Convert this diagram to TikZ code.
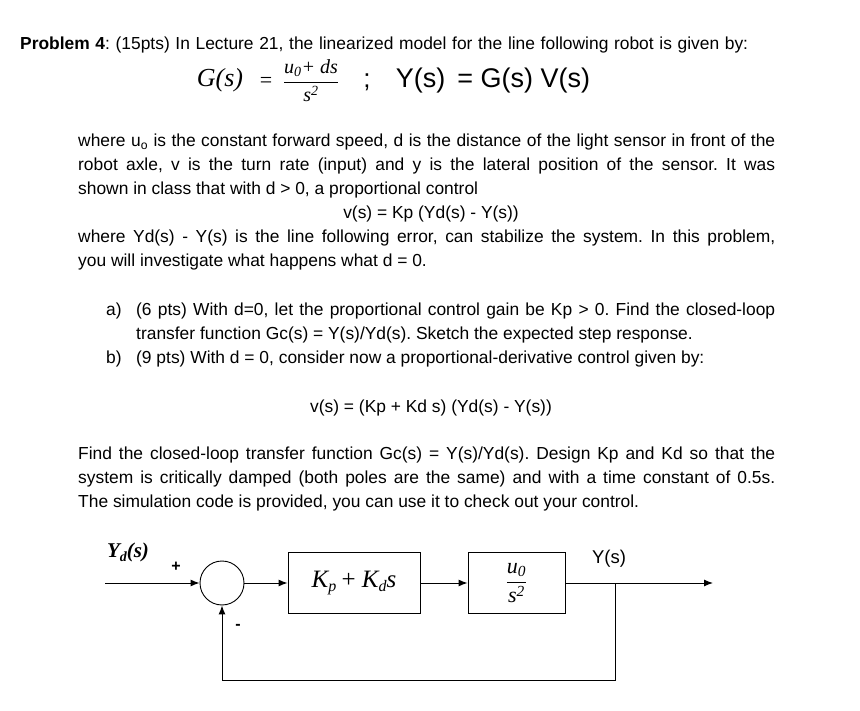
\documentclass[tikz,border=0pt]{standalone}
\usepackage{amsmath}
\usepackage{fontspec}
\setmainfont{Liberation Sans}
\newfontfamily\tms{Liberation Serif}
\usetikzlibrary{arrows.meta}
\begin{document}
\frenchspacing
\begin{tikzpicture}[x=1pt,y=-1pt,
  txt/.style={anchor=west,inner sep=0pt,font=\frenchspacing\fontsize{17.4}{20}\selectfont},
  blk/.style={draw,line width=0.9pt,inner sep=0pt},
  con/.style={line width=1pt,-{Latex[length=9pt,width=7pt]}},
  ln/.style={line width=1pt}]
\useasboundingbox (0,0) rectangle (860,711);
\newcommand\jl[1]{\makebox[697pt][s]{#1}}
\node[txt] (t0) at (20,45) {\makebox[728pt][s]{\textbf{Problem 4}: (15pts) In Lecture 21, the linearized model for the line following robot is given by:}};
\node[inner sep=0pt,font=\tms\itshape\fontsize{26}{28}\selectfont] (g) at (220,80) {G(s)};
\node[inner sep=0pt,font=\tms\fontsize{22}{24}\selectfont] (eq) at (266,82) {=};
\node[inner sep=0pt,font=\tms\itshape\fontsize{20}{20}\selectfont] (fr) at (311,81) {$\genfrac{}{}{0.5pt}{0}{\text{\tms\itshape u}_{\text{\tms 0}}\text{\tms\itshape + ds}}{\text{\tms\itshape s}^{\text{\tms 2}}}$};
\node[inner sep=0pt,font=\fontsize{26}{28}\selectfont] (sc) at (367,82) {;};
\node[inner sep=0pt,font=\fontsize{27}{28}\selectfont] (ys) at (493,81) {Y(s)\, = G(s) V(s)};
\node[txt] (p1) at (78,142) {\jl{where u$_{\text{o}}$ is the constant forward speed, d is the distance of the light sensor in front of the}};
\node[txt] (p2) at (78,166) {\jl{robot axle, v is the turn rate (input) and y is the lateral position of the sensor. It was}};
\node[txt] (p3) at (78,190) {shown in class that with d > 0, a proportional control};
\node[txt,anchor=center] (p4) at (431,214) {v(s) = Kp (Yd(s) - Y(s))};
\node[txt] (p5) at (78,238) {\jl{where Yd(s) - Y(s) is the line following error, can stabilize the system. In this problem,}};
\node[txt] (p6) at (78,262) {you will investigate what happens what d = 0.};
\node[txt] (a1) at (106,311) {a)};
\node[txt] (a2) at (136,311) {\makebox[639pt][s]{(6 pts) With d=0, let the proportional control gain be Kp > 0. Find the closed-loop}};
\node[txt] (a3) at (136,335) {transfer function Gc(s) = Y(s)/Yd(s). Sketch the expected step response.};
\node[txt] (b1) at (106,359) {b)};
\node[txt] (b2) at (136,359) {(9 pts) With d = 0, consider now a proportional-derivative control given by:};
\node[txt,anchor=center] (v2) at (431,408) {v(s) = (Kp + Kd s) (Yd(s) - Y(s))};
\node[txt] (f1) at (78,455) {\jl{Find the closed-loop transfer function Gc(s) = Y(s)/Yd(s). Design Kp and Kd so that the}};
\node[txt] (f2) at (78,479) {\jl{system is critically damped (both poles are the same) and with a time constant of 0.5s.}};
\node[txt] (f3) at (78,503) {The simulation code is provided, you can use it to check out your control.};
% diagram
\node[draw,circle,line width=0.9pt,minimum size=44pt,inner sep=0pt] (sum) at (222,583) {};
\node[blk,minimum width=132pt,minimum height=61pt,font=\tms\itshape\fontsize{25}{25}\selectfont] (c) at (354,583) {K\rlap{\raisebox{-4pt}{\fontsize{16}{16}\selectfont p}}\hspace{7pt} \upshape+ \itshape K\raisebox{-4pt}{\fontsize{16}{16}\selectfont d}s};
\node[blk,minimum width=97pt,minimum height=61pt,font=\tms\itshape\fontsize{22}{22}\selectfont] (p) at (516.5,583) {$\genfrac{}{}{0.8pt}{0}{\text{\tms\itshape u}_{\text{\tms 0}}}{\text{\tms\itshape s}^{\text{\tms 2}}}$};
\coordinate (in) at (105,583);
\coordinate (out) at (713,583);
\coordinate (br) at (615,583);
\coordinate (bl) at (615,680);
\coordinate (bm) at (222,680);
\draw[con] (in) -- (sum.west);
\draw[con] (sum.east) -- (c.west);
\draw[con] (c.east) -- (p.west);
\draw[con] (p.east) -- (out);
\draw[ln] (br) -- (bl) -- (bm);
\draw[con] (bm) -- (sum.south);
\node[inner sep=0pt,font=\tms\itshape\bfseries\fontsize{21}{21}\selectfont] (yd) at (128,552) {Y\raisebox{-4pt}{\fontsize{14}{14}\selectfont d}(s)};
\node[inner sep=0pt,font=\bfseries\fontsize{16}{16}\selectfont] (plus) at (176,567) {+};
\node[inner sep=0pt,font=\bfseries\fontsize{16}{16}\selectfont] (minus) at (238,627) {-};
\node[inner sep=0pt,font=\fontsize{18.5}{18}\selectfont] (yo) at (609,559) {Y(s)};
\end{tikzpicture}
\end{document}
